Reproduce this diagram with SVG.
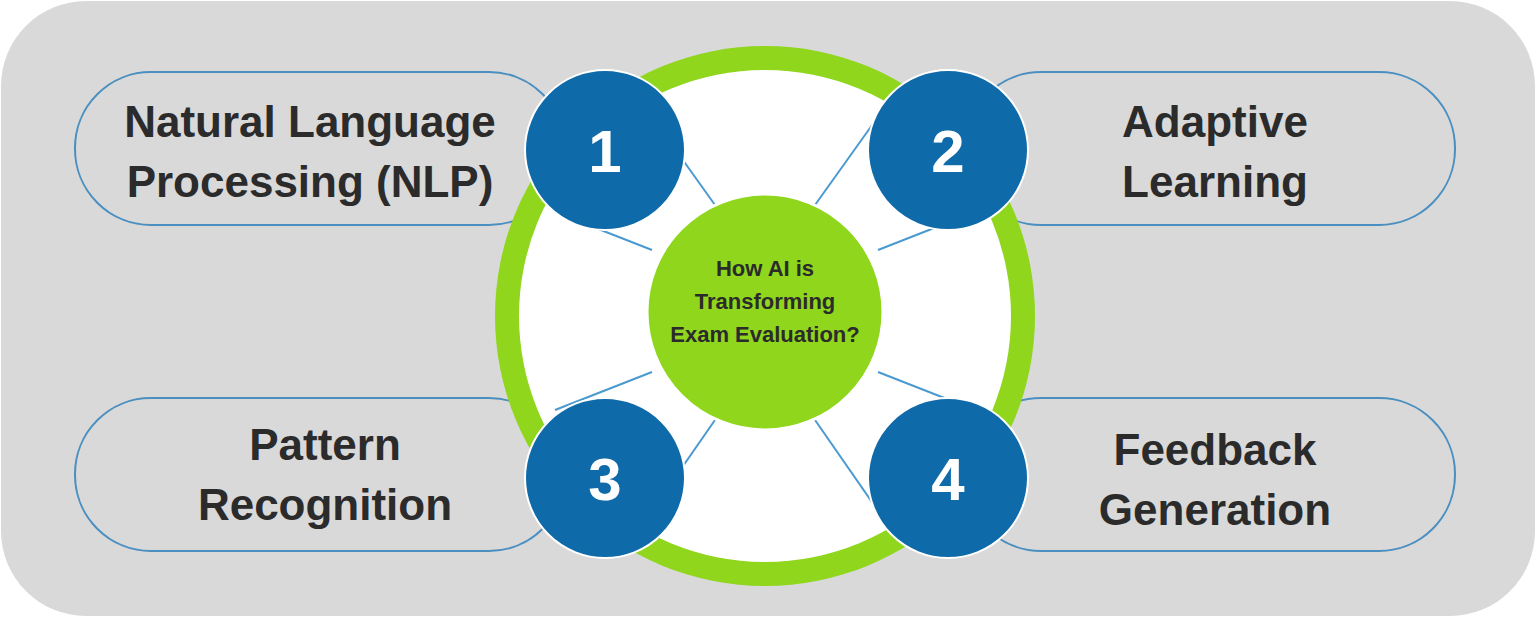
<svg xmlns="http://www.w3.org/2000/svg" width="1536" height="617" viewBox="0 0 1536 617">
<style>
.pill{fill:none;stroke:#4a8fc0;stroke-width:2}
.lbl{font-family:"Liberation Sans",Arial,sans-serif;font-weight:bold;font-size:44px;fill:#2b2b2b;text-anchor:middle}
.num{fill:#0e6aa8;stroke:#ffffff;stroke-width:2}
.nt{font-family:"Liberation Sans",Arial,sans-serif;font-weight:bold;font-size:60px;fill:#ffffff;text-anchor:middle}
.sp{stroke:#4a9ad0;stroke-width:2}
.ct{font-family:"Liberation Sans",Arial,sans-serif;font-weight:bold;font-size:22px;fill:#2b2b2b;text-anchor:middle}
</style>
<rect x="1" y="1" width="1534" height="615" rx="85" fill="#d9d9d9"/>
<g id="pills">
<rect class="pill" x="75" y="72" width="490" height="153" rx="76"/>
<rect class="pill" x="965" y="72" width="490" height="153" rx="76"/>
<rect class="pill" x="75" y="398" width="490" height="153" rx="76"/>
<rect class="pill" x="965" y="398" width="490" height="153" rx="76"/>
</g>
<g id="ring">
<circle cx="765" cy="316" r="270" fill="#8fd61c"/>
<circle cx="765" cy="316" r="246" fill="#ffffff"/>
</g>
<g id="connectors">
<line class="sp" x1="715" y1="205" x2="640" y2="100"/>
<line class="sp" x1="815" y1="205" x2="890" y2="100"/>
<line class="sp" x1="715" y1="420" x2="640" y2="528"/>
<line class="sp" x1="815" y1="420" x2="890" y2="528"/>
<line class="sp" x1="652" y1="250" x2="555" y2="212"/>
<line class="sp" x1="878" y1="250" x2="975" y2="212"/>
<line class="sp" x1="652" y1="372" x2="555" y2="410"/>
<line class="sp" x1="878" y1="372" x2="975" y2="410"/>
</g>
<g id="center">
<circle cx="765" cy="312" r="118" fill="#8fd61c" stroke="#ffffff" stroke-width="3"/>
<text class="ct" x="765" y="276">How AI is</text>
<text class="ct" x="765" y="309">Transforming</text>
<text class="ct" x="765" y="342">Exam Evaluation?</text>
</g>
<g id="n1"><circle class="num" cx="605" cy="150" r="80"/><text class="nt" x="605" y="172">1</text>
<text class="lbl" x="310" y="137">Natural Language</text><text class="lbl" x="310" y="197">Processing (NLP)</text></g>
<g id="n2"><circle class="num" cx="948" cy="150" r="80"/><text class="nt" x="948" y="172">2</text>
<text class="lbl" x="1215" y="137">Adaptive</text><text class="lbl" x="1215" y="197">Learning</text></g>
<g id="n3"><circle class="num" cx="605" cy="478" r="80"/><text class="nt" x="605" y="500">3</text>
<text class="lbl" x="325" y="460">Pattern</text><text class="lbl" x="325" y="520">Recognition</text></g>
<g id="n4"><circle class="num" cx="948" cy="478" r="80"/><text class="nt" x="948" y="500">4</text>
<text class="lbl" x="1215" y="465">Feedback</text><text class="lbl" x="1215" y="525">Generation</text></g>
</svg>
